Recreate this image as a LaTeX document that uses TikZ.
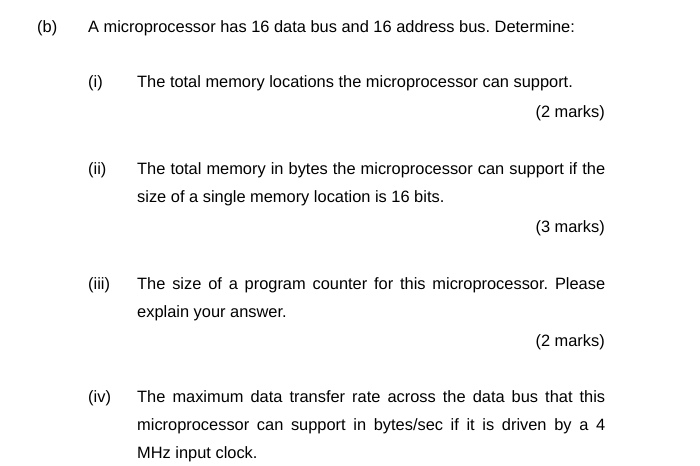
\documentclass[tikz,border=0pt]{standalone}
\usepackage{fontspec}
\setmainfont{Liberation Sans}
\frenchspacing
\begin{document}
\begin{tikzpicture}[x=1pt,y=-1pt,
  txt/.style={anchor=base west,inner sep=0pt,font=\fontsize{16.4pt}{28pt}\selectfont},
  par/.style={txt,text width=468pt,align=justify},
  mk/.style={anchor=base east,inner sep=0pt,font=\fontsize{16.4pt}{28pt}\selectfont}]
\useasboundingbox (0,0) rectangle (700,465);
\node[txt] (b) at (37,33) {(b)};
\node[txt] (q) at (88,33) {A microprocessor has 16 data bus and 16 address bus. Determine:};
\node[txt] (i) at (88,88) {(i)};
\node[txt] (it) at (137,88) {The total memory locations the microprocessor can support.};
\node[mk] (m1) at (605,118) {(2 marks)};
\node[txt] (ii) at (88,174) {(ii)};
\node[par] (iit) at (137,174) {The total memory in bytes the microprocessor can support if the\linebreak size of a single memory location is 16 bits.};
\node[mk] (m2) at (605,232) {(3 marks)};
\node[txt] (iii) at (88,289) {(iii)};
\node[par] (iiit) at (137,289) {The size of a program counter for this microprocessor. Please\linebreak explain your answer.};
\node[mk] (m3) at (605,346) {(2 marks)};
\node[txt] (iv) at (88,402) {(iv)};
\node[par] (ivt) at (137,402) {The maximum data transfer rate across the data bus that this\linebreak microprocessor can support in bytes/sec if it is driven by a 4\linebreak MHz input clock.};
\end{tikzpicture}
\end{document}
